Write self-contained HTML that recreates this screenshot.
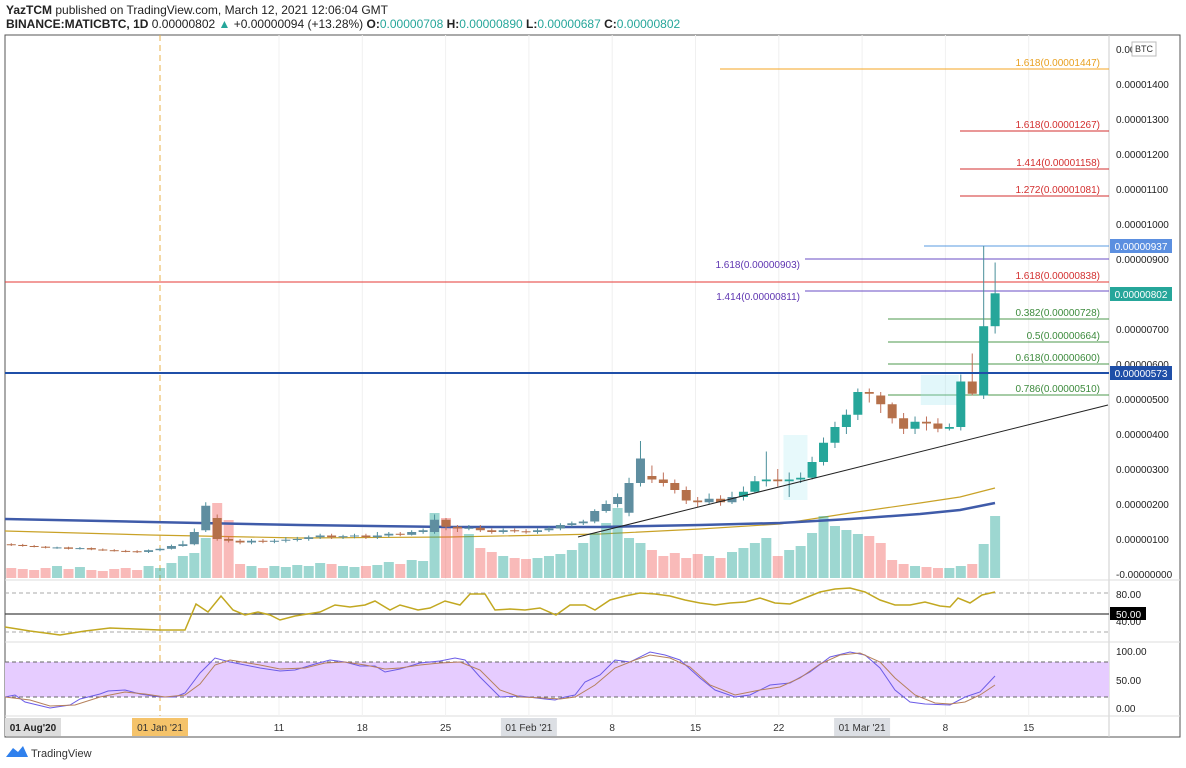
<!DOCTYPE html>
<html><head><meta charset="utf-8"><style>
body{margin:0;background:#fff;font-family:"Liberation Sans",sans-serif;}
#h1{position:absolute;left:6px;top:3px;font-size:12px;color:#222}
#h2{position:absolute;left:6px;top:17px;font-size:12px;color:#222}
.g{color:#26a69a}
</style></head><body>
<div id="h1"><b>YazTCM</b> published on TradingView.com, March 12, 2021 12:06:04 GMT</div>
<div id="h2"><b>BINANCE:MATICBTC, 1D</b> 0.00000802 <span class="g">▲</span> +0.00000094 (+13.28%) <b>O:</b><span class="g">0.00000708</span> <b>H:</b><span class="g">0.00000890</span> <b>L:</b><span class="g">0.00000687</span> <b>C:</b><span class="g">0.00000802</span></div>
<svg id="s" width="1186" height="768" style="position:absolute;left:0;top:0" font-family="Liberation Sans, sans-serif"></svg>
<script>
var S=document.getElementById('s'),o='';
function X(d){return 160+d*11.9}
function XC(d){return 160+d*11.44}
function Y(p){return 574-35*p}
function L(x1,y1,x2,y2,c,w,da){o+='<line x1="'+x1+'" y1="'+y1+'" x2="'+x2+'" y2="'+y2+'" stroke="'+c+'" stroke-width="'+(w||1)+'"'+(da?' stroke-dasharray="'+da+'"':'')+'/>';}
function T(x,y,t,c,sz,a,b){o+='<text x="'+x+'" y="'+y+'" fill="'+c+'" font-size="'+(sz||10)+'"'+(a?' text-anchor="'+a+'"':'')+(b?' font-weight="bold"':'')+'>'+t+'</text>';}
function R(x,y,w,h,c){o+='<rect x="'+x+'" y="'+y+'" width="'+w+'" height="'+h+'" fill="'+c+'"/>';}
o+='<rect x="5" y="35" width="1175" height="702" fill="none" stroke="#555" stroke-width="1"/>';
L(1109,35,1109,737,'#ccc');
L(5,580,1180,580,'#ddd');L(5,642,1180,642,'#ddd');L(5,716,1180,716,'#ddd');
[10,17,24,31,38,45,52,59,66,73].forEach(function(d){L(X(d),35,X(d),716,'#f0f0f0')});
L(X(0),35,X(0),716,'#e8b04a',1,'6,4');
[[14,'0.00001400'],[13,'0.00001300'],[12,'0.00001200'],[11,'0.00001100'],[10,'0.00001000'],[9,'0.00000900'],[7,'0.00000700'],[6,'0.00000600'],[5,'0.00000500'],[4,'0.00000400'],[3,'0.00000300'],[2,'0.00000200'],[1,'0.00000100'],[0,'-0.00000000']].forEach(function(a){T(1116,Y(a[0])+4,a[1],'#222',10)});
T(1116,53,'0.000','#222',10);o+='<rect x="1132" y="42" width="24" height="14" fill="#fff" stroke="#bbb"/>';T(1144,52,'BTC','#333',9,'middle');
var C=[[.85,.83,.88,.8],[.83,.8,.86,.78],[.8,.78,.83,.76],[.78,.75,.8,.73],[.75,.76,.78,.72],[.76,.72,.78,.7],[.72,.74,.77,.7],[.74,.7,.76,.68],[.7,.68,.73,.66],[.68,.66,.71,.64],[.66,.65,.69,.62],[.65,.63,.68,.6],[.63,.68,.7,.6],
[.68,.72,.75,.65],[.72,.8,.84,.7],[.8,.85,.95,.78],[.85,1.2,1.3,.82],[1.25,1.95,2.05,1.2],[1.6,1.0,1.7,.95],[1.0,.95,1.05,.9],[.95,.9,1.0,.85],[.9,.95,1.0,.85],[.95,.92,1.0,.88],[.92,.95,1.0,.88],[.95,.98,1.05,.9],[.98,1.0,1.06,.93],[1.0,1.05,1.1,.95],[1.05,1.1,1.15,1.0],[1.1,1.05,1.15,1.0],[1.05,1.08,1.12,1.0],[1.08,1.1,1.15,1.02],[1.1,1.05,1.15,1.0],[1.05,1.1,1.2,1.0],[1.1,1.15,1.2,1.05],[1.15,1.12,1.2,1.08],[1.12,1.2,1.25,1.1],[1.2,1.25,1.3,1.15],[1.2,1.55,1.7,1.15],[1.55,1.35,1.6,1.25],[1.35,1.3,1.4,1.2],[1.3,1.32,1.4,1.25],[1.32,1.25,1.4,1.2],[1.25,1.2,1.3,1.15],[1.2,1.25,1.3,1.15],[1.25,1.22,1.3,1.18],[1.22,1.2,1.28,1.15],[1.2,1.25,1.3,1.15],[1.25,1.3,1.35,1.2],[1.3,1.4,1.45,1.25],[1.4,1.45,1.5,1.35],[1.45,1.5,1.55,1.4],[1.5,1.8,1.85,1.45],[1.8,2.0,2.1,1.75],[2.0,2.2,2.3,1.9],[1.75,2.6,2.75,1.65],[2.6,3.3,3.8,2.5],[2.8,2.7,3.1,2.6],[2.7,2.6,2.9,2.5],[2.6,2.4,2.7,2.3],[2.4,2.1,2.5,2.0],[2.1,2.05,2.2,1.9],[2.05,2.15,2.3,2.0],[2.15,2.05,2.25,1.95],[2.05,2.2,2.35,2.0],[2.2,2.35,2.5,2.1],[2.35,2.65,2.8,2.3],[2.65,2.7,3.5,2.5],[2.7,2.65,3.0,2.5],[2.65,2.7,2.9,2.2],[2.7,2.75,2.9,2.6],[2.75,3.2,3.35,2.7],[3.2,3.75,3.9,3.1],[3.75,4.2,4.35,3.6],[4.2,4.55,4.7,4.0],[4.55,5.2,5.3,4.4],[5.2,5.15,5.3,4.9],[5.1,4.85,5.2,4.6],[4.85,4.45,4.9,4.3],[4.45,4.15,4.6,4.0],[4.15,4.35,4.5,4.0],[4.35,4.3,4.5,4.1],[4.3,4.15,4.45,4.05],[4.15,4.2,4.3,4.1],[4.2,5.5,5.7,4.1],[5.5,5.15,6.3,5.1],[5.1,7.08,9.37,5.0],[7.08,8.02,8.9,6.87]];
var V=[10,9,8,10,12,9,11,8,7,9,10,8,12,10,15,22,25,40,75,58,14,12,10,12,11,13,12,15,14,12,11,12,13,16,14,18,17,65,60,50,44,30,26,22,20,19,20,22,24,28,35,45,55,70,40,35,28,22,25,20,24,22,20,26,30,35,40,22,28,32,45,62,52,48,44,42,35,18,14,12,11,10,10,12,14,34,62,40,32];
o+='<polyline fill="none" stroke="#c9a227" stroke-width="1.2" points="5,531 150,535 300,538 450,537 600,534 700,529 780,524 850,513 920,503 960,497 995,488"/>';
L(720,69,1109,69,'#f5a623');T(1100,66,'1.618(0.00001447)','#e8a020',10,'end');
[[131,'1.618(0.00001267)'],[169,'1.414(0.00001158)'],[196,'1.272(0.00001081)']].forEach(function(a){L(960,a[0],1109,a[0],'#d32f2f');T(1100,a[0]-3,a[1],'#d32f2f',10,'end')});
L(5,282,1109,282,'#e53935');T(1100,279,'1.618(0.00000838)','#d32f2f',10,'end');
L(805,259,1109,259,'#6a4cc4');T(800,268,'1.618(0.00000903)','#5e35b1',10,'end');
L(805,291,1109,291,'#6a4cc4');T(800,300,'1.414(0.00000811)','#5e35b1',10,'end');
L(924,246,1109,246,'#5a9be0');
[[319,'0.382(0.00000728)'],[342,'0.5(0.00000664)'],[364,'0.618(0.00000600)'],[395,'0.786(0.00000510)']].forEach(function(a){L(888,a[0],1109,a[0],'#4c9a4c');T(1100,a[0]-3,a[1],'#3d8b3d',10,'end')});
R(XC(54.5),435,24,65,'rgba(160,230,240,0.25)');R(XC(66.5),375,38,30,'rgba(160,230,240,0.3)');
C.forEach(function(c,i){var d=i-13,x=XC(d),up=c[1]>=c[0];var h=V[i]||12;R(x-5,578-h,10,h,up?'rgba(38,166,154,0.45)':'rgba(239,83,80,0.4)');});
o+='<polyline fill="none" stroke="#3f5ba9" stroke-width="2.5" points="5,519 150,522 300,525 450,527 600,527 700,525 780,523 850,519 920,514 960,510 995,503"/>';
C.forEach(function(c,i){var d=i-13,x=XC(d),up=c[1]>=c[0];
L(x,Y(c[2]),x,Y(c[3]),up?'#4a8f9a':'#c0705a');var t=Y(Math.max(c[0],c[1])),b=Y(Math.min(c[0],c[1]));R(x-4.5,t,9,Math.max(1,b-t),up?(d>50?'#26a69a':'#5f8ea0'):'#b5704a');});
L(578,537,1108,405,'#222');
L(5,373,1109,373,'#1f4fa8',2);
function tag(y,t,bg){R(1110,y-7,62,14,bg);T(1141,y+4,t,'#fff',10,'middle');}
tag(246,'0.00000937','#5b8fe0');tag(294,'0.00000802','#26a69a');tag(373,'0.00000573','#1f4fa8');
L(5,593,1109,593,'#aaa',1,'4,3');L(5,632,1109,632,'#aaa',1,'4,3');L(5,614,1109,614,'#444',1.2);
T(1116,598,'80.00','#222',10);T(1116,625,'40.00','#222',10);R(1110,607,36,13,'#000');T(1116,618,'50.00','#fff',10);
o+='<polyline fill="none" stroke="#c2a821" stroke-width="1.5" points="5,627 30,631 60,635 85,631 110,628 135,629 160,630 185,630 196,604 208,612 221,596 233,610 245,615 258,612 270,615 280,620 295,616 320,612 335,605 350,607 365,605 375,601 390,610 400,605 418,610 430,608 445,601 460,605 470,594 485,594 495,610 510,609 525,610 540,608 556,615 570,605 585,605 595,610 610,600 625,596 640,593 655,594 670,596 685,600 700,603 715,605 730,603 745,602 760,598 775,603 790,604 805,598 820,592 835,589 850,588 865,592 880,600 895,605 910,605 925,602 940,606 950,607 958,598 970,603 982,595 995,592"/>';
R(5,662,1104,35,'#e6ccff');L(5,662,1109,662,'#666',1,'4,3');L(5,697,1109,697,'#666',1,'4,3');
T(1116,655,'100.00','#222',10);T(1116,684,'50.00','#222',10);T(1116,712,'0.00','#222',10);
o+='<polyline fill="none" stroke="#6c5ce7" stroke-width="1" points="5,697 15,695 25,702 50,708 70,705 80,699 100,694 108,691 125,690 140,694 160,697 175,697 185,693 200,673 215,658 230,662 260,668 280,671 295,670 315,664 330,660 345,662 360,666 375,666 385,672 400,669 420,663 440,661 455,658 465,660 480,677 500,697 520,696 545,699 555,700 565,697 575,695 585,682 600,675 615,660 630,662 650,652 665,655 680,660 700,678 715,690 735,697 750,695 770,685 790,683 810,672 830,657 850,652 865,655 880,668 895,690 910,702 925,704 950,705 965,697 980,692 995,676"/>';
o+='<polyline fill="none" stroke="#b5805c" stroke-width="1" points="5,697 30,700 50,706 75,705 100,697 125,692 145,694 165,697 185,695 200,684 215,665 230,660 260,665 280,669 305,668 325,663 345,662 365,665 385,669 400,668 420,665 440,663 460,662 480,670 500,690 520,697 545,698 560,699 575,697 595,685 615,668 635,660 650,655 670,658 690,667 710,685 735,695 760,690 780,687 800,678 820,664 840,655 860,653 880,662 895,678 915,695 935,703 950,704 965,702 980,695 995,685"/>';
[[33,'#ddd'],[X(0),'#f5c36a'],[X(31),'#dcdfe4'],[X(59),'#dcdfe4']].forEach(function(a){R(a[0]-28,718,56,18,a[1]);});
T(33,731,'01 Aug\'20','#222',10,'middle',1);T(X(0),731,'01 Jan \'21','#333',10,'middle');T(X(31),731,'01 Feb \'21','#333',10,'middle');T(X(59),731,'01 Mar \'21','#333',10,'middle');
[[10,'11'],[17,'18'],[24,'25'],[38,'8'],[45,'15'],[52,'22'],[66,'8'],[73,'15']].forEach(function(a){T(X(a[0]),731,a[1],'#333',10,'middle')});
o+='<path d="M6,757 L13,748 L18,752 L23,746 L28,757 Z" fill="#2f80ed"/>';T(31,757,'TradingView','#333',11);
S.innerHTML=o;
</script>
</body></html>
